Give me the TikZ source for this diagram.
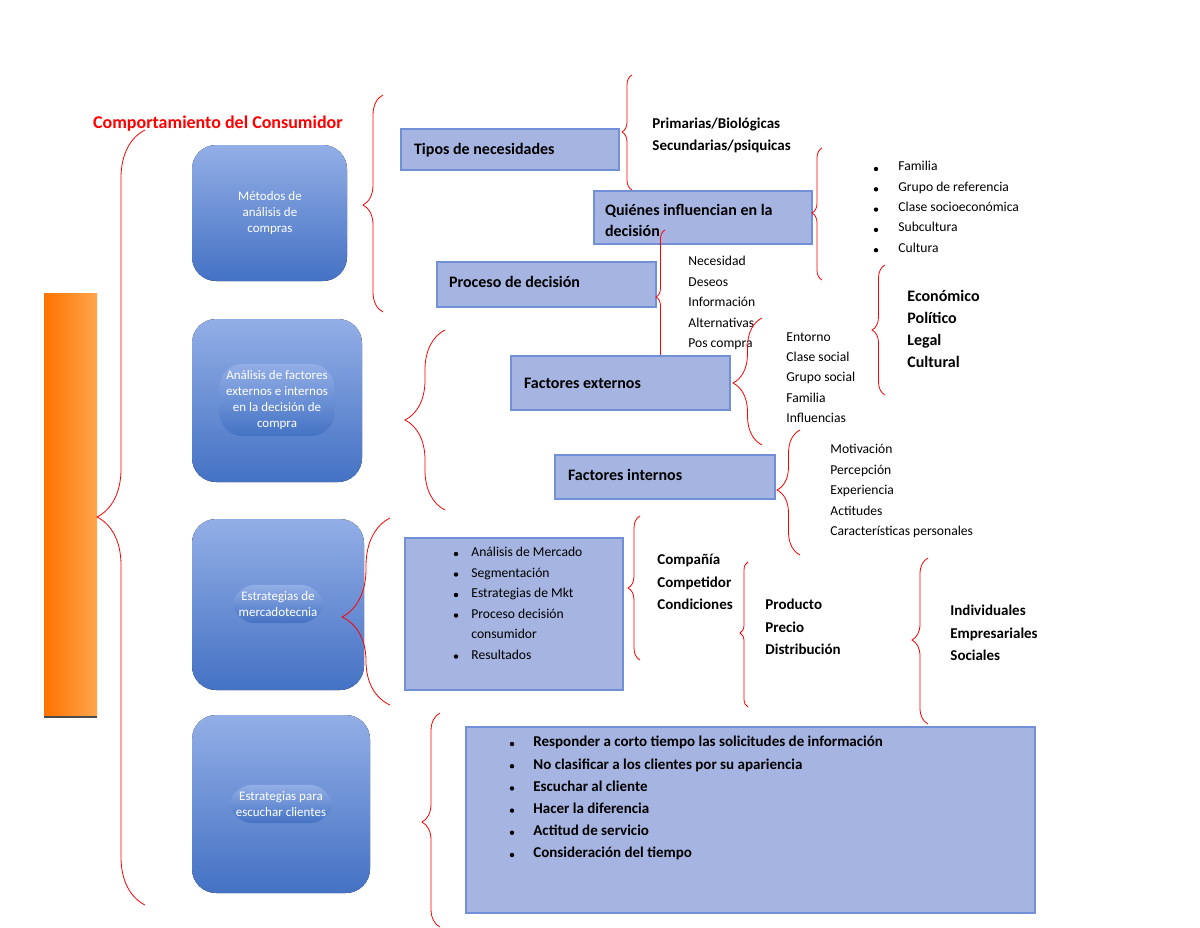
\documentclass[tikz,border=0pt]{standalone}
\usepackage{fontspec}
\setmainfont{Carlito}
\usetikzlibrary{decorations.pathreplacing}
\definecolor{bfill}{HTML}{A5B4E0}
\definecolor{bdraw}{HTML}{7190D8}
\definecolor{rtop}{HTML}{93AEE6}
\definecolor{rbot}{HTML}{4472C4}
\newcommand{\brc}[5]{%
 \pgfmathsetmacro\asp{(#3-#5)/(#3-#2)}%
 \pgfmathsetmacro\amp{(#1-#4)*0.5}%
 \coordinate (b#1#2) at (#1,#3); \coordinate (t#1#2) at (#1,#2);
 \draw[red, thin, decorate, decoration={brace, amplitude=\amp pt, aspect=\asp}] (b#1#2) -- (t#1#2);}
\begin{document}
\begin{tikzpicture}[x=0.5pt,y=-0.5pt,
 sq/.style={draw=bdraw, line width=0.8pt, fill=bfill, anchor=north west, inner sep=0pt},
 rb/.style={rounded corners=12pt, top color=rtop, bottom color=rbot, draw=none, text=white, align=center, font=\fontsize{6.5}{8}\selectfont},
 bt/.style={font=\bfseries\fontsize{8}{9}\selectfont, anchor=north west},
 lt/.style={font=\fontsize{6.8}{10.2}\selectfont, anchor=north west, align=left, inner sep=0pt}]
\useasboundingbox (0,0) rectangle (1200,927);
\fill[white] (0,0) rectangle (1200,927);
\node[font=\bfseries\fontsize{9}{10}\selectfont, text=red, anchor=west] (title) at (86,124) {Comportamiento del Consumidor};
\shade[left color=orange!90!red, right color=orange!70] (44,293) rectangle (97,717);
\draw[black!70, line width=1pt] (44,717) -- (97,717);
\brc{145}{130}{905}{97}{517}
% rounded boxes
\filldraw[rb] (192,145) rectangle (347,281); \node[rb,fill=none,shade=none] (m1) at (270,213) {Métodos de\\análisis de\\compras};
\filldraw[rb] (192,319) rectangle (362,482); \node[rb,fill=none] (m2) at (277,400) {Análisis de factores\\externos e internos\\en la decisión de\\compra};
\filldraw[rb] (192,519) rectangle (364,690); \node[rb,fill=none] (m3) at (278,604) {Estrategias de\\mercadotecnia};
\filldraw[rb] (192,715) rectangle (370,893); \node[rb,fill=none] (m4) at (281,804) {Estrategias para\\escuchar clientes};
% group 1
\brc{383}{95}{312}{363}{205}
\draw[sq] (401,129) rectangle (619,170); \node[bt] (tn) at (407,136) {Tipos de necesidades};
\brc{632}{75}{190}{622}{132}
\node[lt,font=\bfseries\fontsize{7.5}{11}\selectfont] (pr) at (652,118) {Primarias/Biológicas\\Secundarias/psiquicas};
\draw[sq] (594,191) rectangle (812,244); \node[bt,align=left,font=\bfseries\fontsize{8}{10.5}\selectfont] (qi) at (598,197) {Quiénes influencian en la\\decisión};
\brc{822}{148}{280}{812}{213}
\foreach \t [count=\i] in {Familia,Grupo de referencia,Clase socioeconómica,Subcultura,Cultura}{
 \node[lt] (f\i) at (898,{161+20.3*(\i-1)}) {\t};
 \fill (876,{169+20.3*(\i-1)}) circle (2.2);}
\draw[sq] (437,262) rectangle (656,307); \node[bt] (pd) at (442,269) {Proceso de decisión};
\brc{665}{230}{365}{656}{297}
\node[lt] (nd) at (688,256) {Necesidad\\Deseos\\Información\\Alternativas\\Pos compra};
% group 2
\brc{445}{330}{510}{405}{420}
\draw[sq] (511,356) rectangle (730,410); \node[bt] (fe) at (517,371) {Factores externos};
\brc{762}{318}{445}{733}{383}
\node[lt] (en) at (786,332) {Entorno\\Clase social\\Grupo social\\Familia\\Influencias};
\brc{885}{265}{395}{872}{330}
\node[lt,font=\bfseries\fontsize{8}{11}\selectfont] (ec) at (907,290) {Económico\\Político\\Legal\\Cultural};
\draw[sq] (555,455) rectangle (775,499); \node[bt] (fi) at (561,462) {Factores internos};
\brc{800}{430}{555}{777}{490}
\node[lt] (mo) at (830,444) {Motivación\\Percepción\\Experiencia\\Actitudes\\Características personales};
% group 3
\brc{390}{518}{705}{342}{617}
\draw[sq] (405,538) rectangle (623,690);
\foreach \t [count=\i] in {Análisis de Mercado,Segmentación,Estrategias de Mkt,Proceso decisión,consumidor,Resultados}{
 \node[lt] (e\i) at (471,{547+20.5*(\i-1)}) {\t};}
\foreach \i in {1,2,3,4,6} \fill (456,{554+20.5*(\i-1)}) circle (2.2);
\brc{640}{516}{660}{628}{588}
\node[lt,font=\bfseries\fontsize{7.5}{11.2}\selectfont] (co) at (657,554) {Compañía\\Competidor\\Condiciones};
\brc{748}{562}{707}{740}{633}
\node[lt,font=\bfseries\fontsize{7.5}{11.2}\selectfont] (po) at (765,599) {Producto\\Precio\\Distribución};
\brc{928}{558}{724}{912}{640}
\node[lt,font=\bfseries\fontsize{7.5}{11.2}\selectfont] (in) at (950,605) {Individuales\\Empresariales\\Sociales};
% group 4
\brc{440}{713}{927}{422}{822}
\draw[sq] (466,727) rectangle (1035,913);
\foreach \t [count=\i] in {Responder a corto tiempo las solicitudes de información,No clasificar a los clientes por su apariencia,Escuchar al cliente,Hacer la diferencia,Actitud de servicio,Consideración del tiempo}{
 \node[lt,font=\bfseries\fontsize{7.5}{9}\selectfont] (r\i) at (533,{736+22.2*(\i-1)}) {\t};
 \fill (512,{744+22.2*(\i-1)}) circle (2.2);}
\end{tikzpicture}
\end{document}
